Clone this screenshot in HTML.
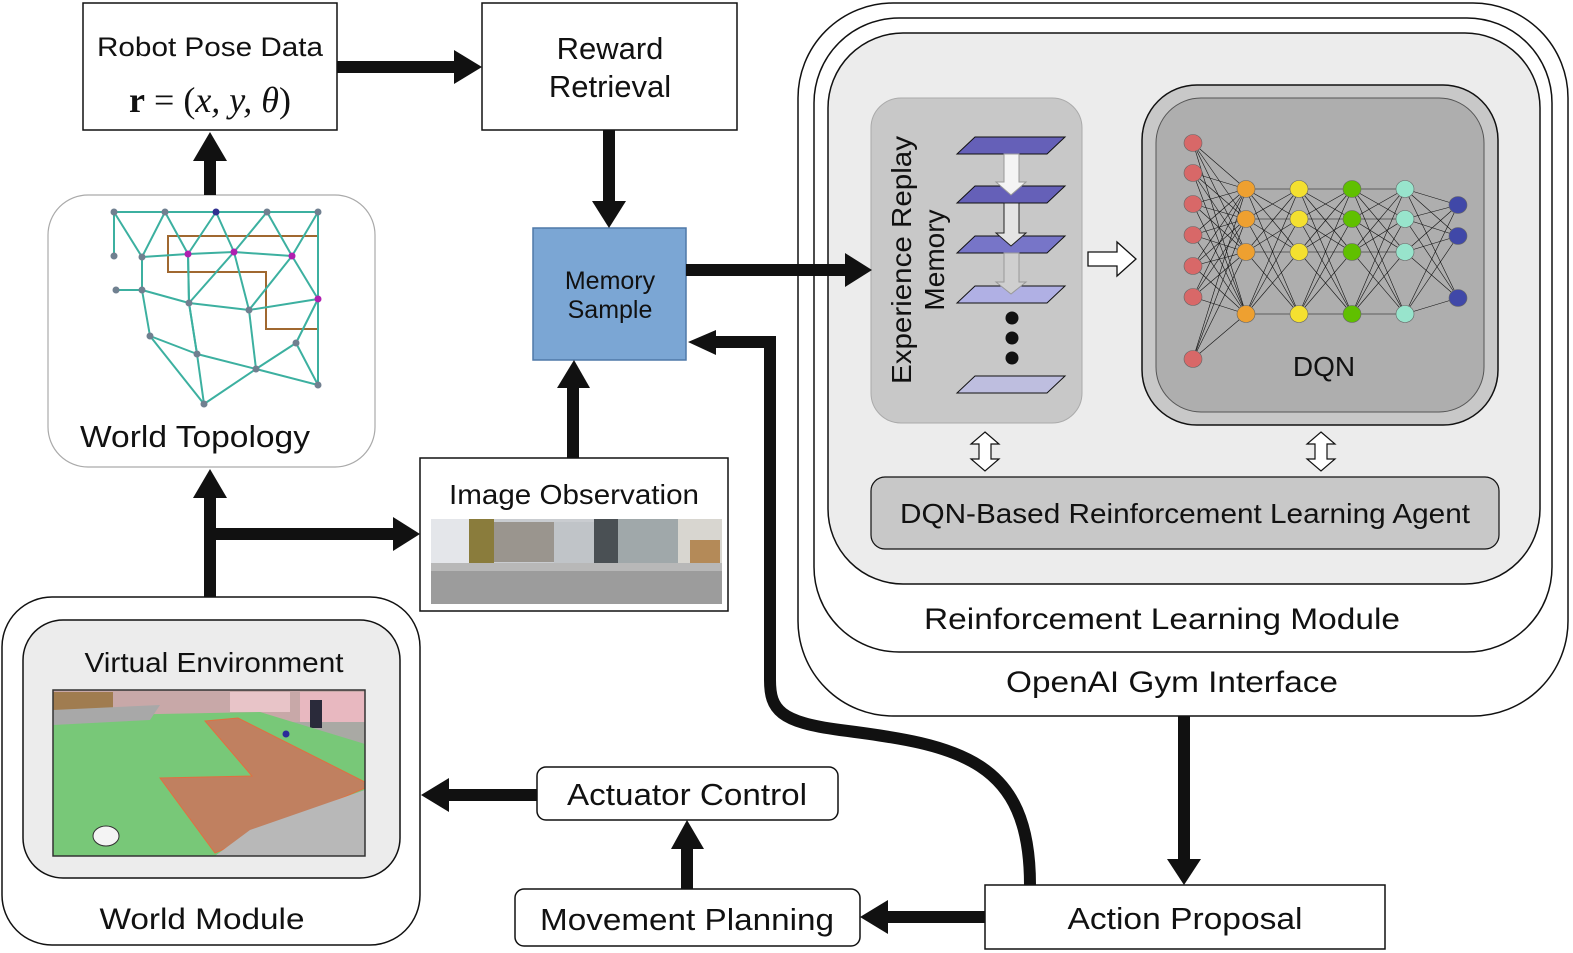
<!DOCTYPE html>
<html><head><meta charset="utf-8"><style>
html,body{margin:0;padding:0;background:#fff}
svg{display:block}
text{font-family:"Liberation Sans",sans-serif;fill:#111}
</style></head><body>
<svg id="s" width="1573" height="953" viewBox="0 0 1573 953" xmlns="http://www.w3.org/2000/svg">
<defs>
<marker id="ah" markerWidth="10" markerHeight="10" refX="0" refY="5" orient="auto" markerUnits="userSpaceOnUse"><path d="M0,0"/></marker>
</defs>
<!-- RL containers -->
<rect x="798" y="3" width="770" height="713" rx="95" fill="#fff" stroke="#111" stroke-width="1.5"/>
<rect x="814" y="18" width="738" height="634" rx="85" fill="#fff" stroke="#111" stroke-width="1.5"/>
<rect x="828" y="33" width="712" height="551" rx="75" fill="#ececec" stroke="#111" stroke-width="1.5"/>
<rect x="871" y="98" width="211" height="325" rx="30" fill="#c8c8c8" stroke="#aaa" stroke-width="1"/>
<rect x="1142" y="85" width="356" height="340" rx="55" fill="#c8c8c8" stroke="#111" stroke-width="1.5"/>
<rect x="1156" y="98" width="328" height="314" rx="45" fill="#aeaeae" stroke="#555" stroke-width="1"/>
<rect x="871" y="477" width="628" height="72" rx="14" fill="#c8c8c8" stroke="#111" stroke-width="1.2"/>
<text x="1185" y="523" font-size="28" text-anchor="middle" textLength="570" lengthAdjust="spacingAndGlyphs">DQN-Based Reinforcement Learning Agent</text>
<text x="1162" y="629" font-size="30" text-anchor="middle" textLength="476" lengthAdjust="spacingAndGlyphs">Reinforcement Learning Module</text>
<text x="1172" y="692" font-size="30" text-anchor="middle" textLength="332" lengthAdjust="spacingAndGlyphs">OpenAI Gym Interface</text>
<text x="1324" y="376" font-size="28" text-anchor="middle">DQN</text>
<text transform="translate(911,260) rotate(-90)" font-size="28" text-anchor="middle" textLength="248" lengthAdjust="spacingAndGlyphs">Experience Replay</text>
<text transform="translate(944,260) rotate(-90)" font-size="28" text-anchor="middle">Memory</text>
<!-- memory stack -->
<polygon points="975,137 1065,137 1047,154 957,154" fill="#6560b8" stroke="#111"/>
<polygon points="975,186 1065,186 1047,203 957,203" fill="#6560b8" stroke="#111"/>
<polygon points="975,236 1065,236 1047,253 957,253" fill="#7775c8" stroke="#111"/>
<polygon points="975,286 1065,286 1047,303 957,303" fill="#b0b0e4" stroke="#111"/>
<polygon points="975,376 1065,376 1047,393 957,393" fill="#bebedf" stroke="#111"/>
<polygon points="1004,154 1019,154 1019,182 1026,182 1011,195 996,182 1004,182" fill="#f4f4f4" stroke="#999"/>
<polygon points="1004,203 1019,203 1019,233 1026,233 1011,246 996,233 1004,233" fill="#e4e4e4" stroke="#222"/>
<polygon points="1004,253 1019,253 1019,282 1026,282 1011,294 996,282 1004,282" fill="#cfcfcf" stroke="#999"/>
<circle cx="1012" cy="318" r="6.5" fill="#111"/><circle cx="1012" cy="338" r="6.5" fill="#111"/><circle cx="1012" cy="358" r="6.5" fill="#111"/>
<polygon points="1088,252 1117,252 1117,242 1136,259 1117,276 1117,266 1088,266" fill="#fff" stroke="#111" stroke-width="1.3"/>
<!-- double arrows -->
<g fill="#fff" stroke="#111" stroke-width="1.2">
<polygon points="985,432 999,444 991,444 991,459 999,459 985,471 971,459 979,459 979,444 971,444"/>
<polygon points="1321,432 1335,444 1327,444 1327,459 1335,459 1321,471 1307,459 1315,459 1315,444 1307,444"/>
</g>
<g id="nn" stroke="#111" stroke-width="0.6"></g>
<g id="nnodes"></g>
<!-- topology -->
<rect x="48" y="195" width="327" height="272" rx="40" fill="#fff" stroke="#aaa" stroke-width="1.2"/>
<g id="topo"></g>
<text x="195" y="447" font-size="31" text-anchor="middle" textLength="230" lengthAdjust="spacingAndGlyphs">World Topology</text>
<!-- boxes -->
<rect x="83" y="3" width="254" height="127" fill="#fff" stroke="#111" stroke-width="1.5"/>
<text x="210" y="56" font-size="27" text-anchor="middle" textLength="226" lengthAdjust="spacingAndGlyphs">Robot Pose Data</text>
<text x="210" y="112" font-size="36" text-anchor="middle" font-family="Liberation Serif"><tspan font-weight="bold" style="font-family:'Liberation Serif'">r</tspan><tspan style="font-family:'Liberation Serif'"> = (</tspan><tspan font-style="italic" style="font-family:'Liberation Serif'">x, y, θ</tspan><tspan style="font-family:'Liberation Serif'">)</tspan></text>
<rect x="482" y="3" width="255" height="127" fill="#fff" stroke="#111" stroke-width="1.5"/>
<text x="610" y="59" font-size="31" text-anchor="middle">Reward</text>
<text x="610" y="97" font-size="31" text-anchor="middle">Retrieval</text>
<rect x="533" y="228" width="153" height="132" fill="#7ba6d4" stroke="#4f78a8" stroke-width="1.5"/>
<text x="610" y="289" font-size="25" text-anchor="middle">Memory</text>
<text x="610" y="318" font-size="25" text-anchor="middle">Sample</text>
<rect x="420" y="458" width="308" height="153" fill="#fff" stroke="#111" stroke-width="1.5"/>
<text x="574" y="504" font-size="28" text-anchor="middle" textLength="250" lengthAdjust="spacingAndGlyphs">Image Observation</text>
<!-- image obs picture -->
<rect x="431" y="519" width="291" height="85" fill="#8f8f8f"/>
<rect x="431" y="519" width="291" height="46" fill="#c9ccd0"/>
<rect x="431" y="519" width="38" height="46" fill="#e4e6ea"/>
<rect x="469" y="519" width="25" height="50" fill="#8a7c3c"/>
<rect x="494" y="522" width="60" height="40" fill="#9a958e"/>
<rect x="554" y="522" width="40" height="42" fill="#c0c4c8"/>
<rect x="594" y="519" width="24" height="47" fill="#4a5054"/>
<rect x="618" y="519" width="60" height="47" fill="#a0a8aa"/>
<rect x="678" y="519" width="44" height="48" fill="#d8d6d0"/>
<rect x="690" y="540" width="30" height="30" fill="#b48a58"/>
<rect x="431" y="567" width="291" height="37" fill="#9c9c9c"/>
<rect x="431" y="563" width="291" height="8" fill="#b8b8b8"/>
<!-- world module -->
<rect x="2" y="597" width="418" height="348" rx="50" fill="#fff" stroke="#111" stroke-width="1.5"/>
<rect x="23" y="620" width="377" height="258" rx="40" fill="#ececec" stroke="#111" stroke-width="1.5"/>
<text x="214" y="672" font-size="28" text-anchor="middle" textLength="259" lengthAdjust="spacingAndGlyphs">Virtual Environment</text>
<text x="202" y="929" font-size="30" text-anchor="middle" textLength="205" lengthAdjust="spacingAndGlyphs">World Module</text>
<svg x="53" y="690" width="312" height="166" viewBox="53 690 312 166">
<rect x="53" y="690" width="312" height="166" fill="#a9a9a4"/>
<rect x="53" y="690" width="312" height="32" fill="#c8a8a8"/>
<rect x="53" y="692" width="60" height="24" fill="#a07c50"/>
<rect x="230" y="692" width="60" height="20" fill="#e8c4c8"/>
<rect x="300" y="692" width="65" height="30" fill="#e8b8c0"/>
<rect x="310" y="700" width="12" height="28" fill="#2a2a3a"/>
<polygon points="53,716 260,712 365,744 365,790 250,830 215,856 53,856" fill="#78c878"/>
<polygon points="53,710 160,705 150,720 53,725" fill="#a8a8a8"/>
<polygon points="205,721 238,718 365,782 365,788 215,853 160,778 252,776" fill="#c08060" stroke="#e07040" stroke-width="1"/>
<polygon points="365,790 250,830 215,856 365,856" fill="#b8b8b8"/>
<ellipse cx="106" cy="836" rx="13" ry="10" fill="#f4f4f4" stroke="#333"/>
<circle cx="286" cy="734" r="3.5" fill="#2b2b9a"/>
</svg>
<rect x="53" y="690" width="312" height="166" fill="none" stroke="#333" stroke-width="1.5"/>
<rect x="537" y="767" width="301" height="53" rx="9" fill="#fff" stroke="#111" stroke-width="1.5"/>
<text x="687" y="805" font-size="31" text-anchor="middle" textLength="240" lengthAdjust="spacingAndGlyphs">Actuator Control</text>
<rect x="515" y="889" width="345" height="57" rx="9" fill="#fff" stroke="#111" stroke-width="1.5"/>
<text x="687" y="930" font-size="31" text-anchor="middle" textLength="294" lengthAdjust="spacingAndGlyphs">Movement Planning</text>
<rect x="985" y="885" width="400" height="64" fill="#fff" stroke="#111" stroke-width="1.5"/>
<text x="1185" y="929" font-size="31" text-anchor="middle" textLength="235" lengthAdjust="spacingAndGlyphs">Action Proposal</text>
<!-- connectors -->
<g fill="#111" stroke="none">
<rect x="204" y="160" width="12" height="35"/><polygon points="193,161 227,161 210,132"/>
<rect x="337" y="61" width="118" height="12"/><polygon points="454,50 454,84 482,67"/>
<rect x="603" y="130" width="12" height="72"/><polygon points="592,201 626,201 609,228"/>
<rect x="686" y="264" width="160" height="12"/><polygon points="845,253 845,287 872,270"/>
<rect x="567" y="387" width="12" height="71"/><polygon points="557,388 590,388 574,360"/>
<rect x="204" y="497" width="12" height="100"/><polygon points="193,498 227,498 210,469"/>
<rect x="216" y="528" width="178" height="12"/><polygon points="393,517 393,551 420,534"/>
<rect x="448" y="789" width="89" height="12"/><polygon points="449,778 449,812 421,795"/>
<rect x="681" y="848" width="12" height="41"/><polygon points="671,849 704,849 687,820"/>
<rect x="887" y="911" width="98" height="12"/><polygon points="888,900 888,934 860,917"/>
<rect x="1178" y="716" width="12" height="145"/><polygon points="1167,859 1201,859 1184,885"/>
<polygon points="716,330 716,355 688,342"/>
</g>
<path d="M1030,885 C1030,760 960,745 840,730 C780,722 770,710 770,680 L770,342 L714,342" fill="none" stroke="#111" stroke-width="12"/>
</svg>
<script>
var NS="http://www.w3.org/2000/svg";
function el(p,t,a){var e=document.createElementNS(NS,t);for(var k in a)e.setAttribute(k,a[k]);document.getElementById(p).appendChild(e);return e;}
var L=[[1193,[143,173,204,235,266,297,359],"#d86868"],[1246,[189,219,252,314],"#eea030"],[1299,[189,219,252,314],"#f4e030"],[1352,[189,219,252,314],"#60c000"],[1405,[189,219,252,314],"#98e4cc"],[1458,[205,236,298],"#4048a8"]];
for(var i=0;i<L.length-1;i++)for(var a=0;a<L[i][1].length;a++)for(var b=0;b<L[i+1][1].length;b++)el("nn","line",{x1:L[i][0],y1:L[i][1][a],x2:L[i+1][0],y2:L[i+1][1][b]});
L.forEach(function(l){l[1].forEach(function(y){el("nnodes","ellipse",{cx:l[0],cy:y,rx:9,ry:8.5,fill:l[2],stroke:"#666","stroke-width":0.6});});});
var P={a:[114,212],b:[165,212],c:[216,212],d:[267,212],e:[318,212],f:[114,256],g:[142,257],h:[188,254],i:[234,252],j:[292,256],k:[116,290],l:[142,290],m:[189,303],n:[249,310],o:[318,299],p:[150,336],q:[197,354],r:[256,369],s:[296,343],t:[318,385],u:[204,404]};
var E="ab bc cd de af ag bg bh ch ci di dj ej eo gh hi ij gl kl lm lp mh mn mi mq pq pu qr qu ru rt rs st so no nr ni nj jo ot mq hm".split(" ");
el("topo","path",{d:"M168,236 L318,236 L318,329 L266,329 L266,272 L168,272 Z",fill:"none",stroke:"#a06830","stroke-width":2});
E.forEach(function(e){var A=P[e[0]],B=P[e[1]];el("topo","line",{x1:A[0],y1:A[1],x2:B[0],y2:B[1],stroke:"#3cb0a0","stroke-width":2});});
for(var k in P){var c="hijo".indexOf(k)>=0?"#b020b0":(k=="c"?"#303090":"#708090");el("topo","circle",{cx:P[k][0],cy:P[k][1],r:3.5,fill:c});}
</script>
</body></html>
